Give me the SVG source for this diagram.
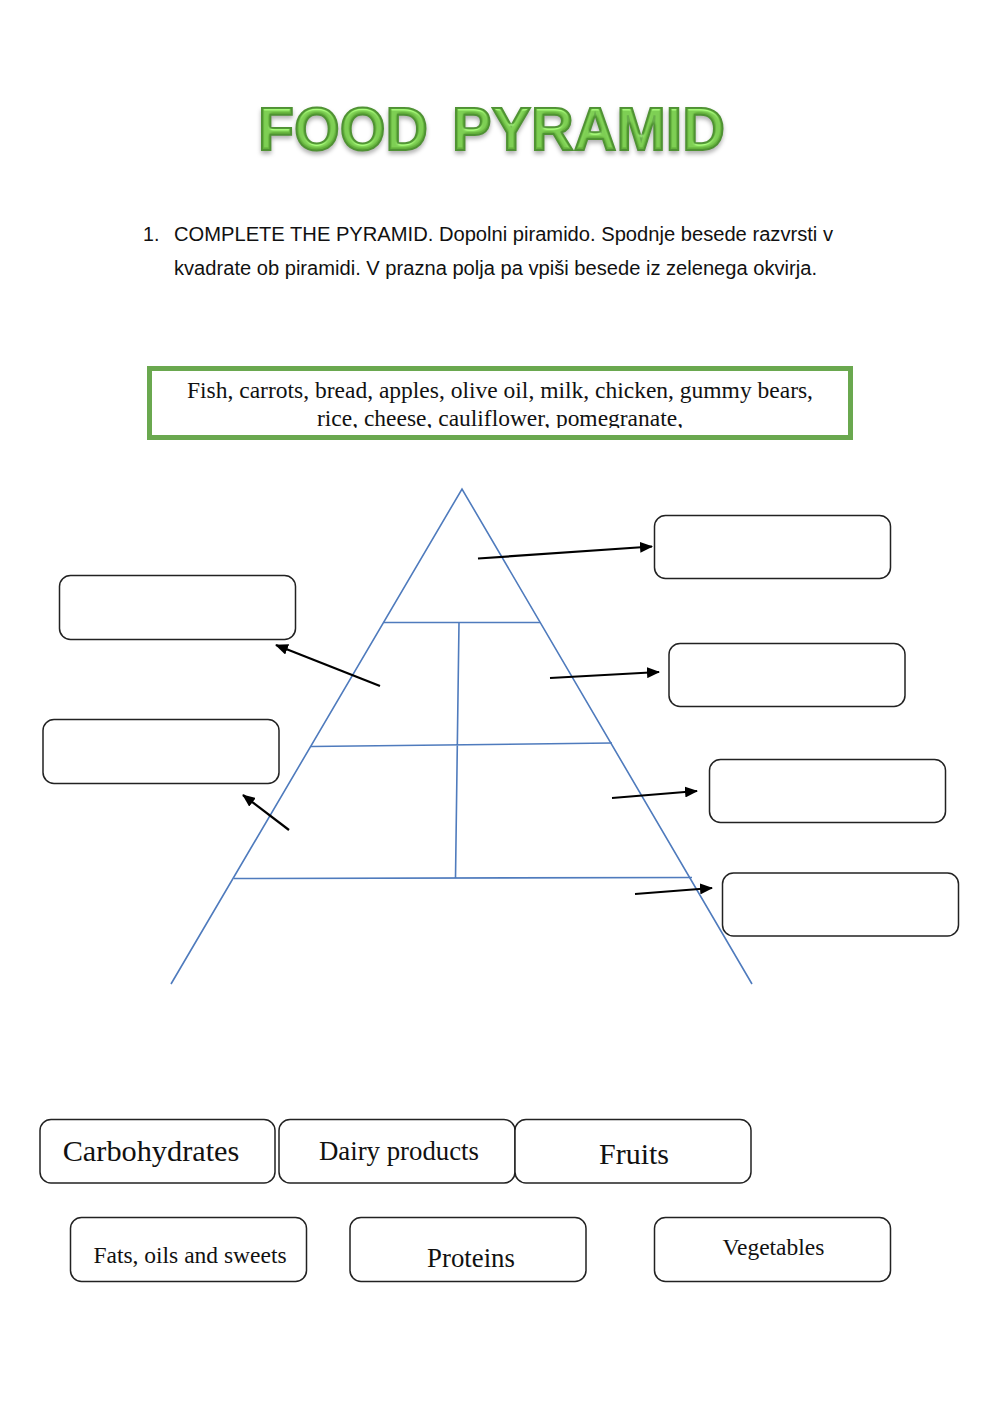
<svg xmlns="http://www.w3.org/2000/svg" width="1000" height="1413" viewBox="0 0 1000 1413">
<defs>
<marker id="ah" markerUnits="userSpaceOnUse" markerWidth="13" markerHeight="11" refX="12" refY="5.500" orient="auto"><path d="M0 0L13 5.500L0 11Z" fill="#000"/></marker>
<filter id="bevel" x="-5%" y="-20%" width="110%" height="150%" color-interpolation-filters="sRGB">
<feGaussianBlur in="SourceAlpha" stdDeviation="1.4" result="b"/>
<feSpecularLighting in="b" surfaceScale="3" specularConstant="0.8" specularExponent="22" lighting-color="#eaffd8" result="sp"><feDistantLight azimuth="270" elevation="55"/></feSpecularLighting>
<feComposite in="sp" in2="SourceAlpha" operator="in" result="spIn"/>
<feComposite in="SourceGraphic" in2="spIn" operator="arithmetic" k1="0" k2="1" k3="0.4" k4="0" result="lit"/>
<feDropShadow in="lit" dx="0" dy="3" stdDeviation="2" flood-color="#000" flood-opacity="0.3"/>
</filter>
<clipPath id="cut"><rect x="152" y="405" width="696" height="23"/></clipPath>
</defs>
<style>
.box{fill:#fff;stroke:#222;stroke-width:1.500}
.py{fill:none;stroke:#4f7bbd;stroke-width:1.600}
.ar{stroke:#000;stroke-width:2.200;fill:none;marker-end:url(#ah)}
.s{font-family:"Liberation Sans",Arial,sans-serif;font-size:19.6px;fill:#111}
.t{font-family:"Liberation Serif","Times New Roman",serif;fill:#111}
.h{font-family:"Liberation Sans",Arial,sans-serif;font-weight:700;font-size:62px;fill:#64b23c;stroke:#4f9233;stroke-width:2}
</style>
<rect width="1000" height="1413" fill="#fff"/>
<g id="title" filter="url(#bevel)">
<text class="h" x="258" y="150" textLength="170" lengthAdjust="spacingAndGlyphs">FOOD</text>
<text class="h" x="452" y="150" textLength="273" lengthAdjust="spacingAndGlyphs">PYRAMID</text>
</g>
<g id="instructions">
<text class="s" x="143" y="241">1.</text>
<text class="s" x="174" y="241" textLength="659" lengthAdjust="spacingAndGlyphs">COMPLETE THE PYRAMID. Dopolni piramido. Spodnje besede razvrsti v</text>
<text class="s" x="174" y="275" textLength="643" lengthAdjust="spacingAndGlyphs">kvadrate ob piramidi. V prazna polja pa vpiši besede iz zelenega okvirja.</text>
</g>
<g id="word-box">
<rect x="149.500" y="368.500" width="701" height="69" fill="#fff" stroke="#6aa84f" stroke-width="5"/>
<text class="t" x="500" y="398" text-anchor="middle" font-size="23.500" textLength="626" lengthAdjust="spacingAndGlyphs">Fish, carrots, bread, apples, olive oil, milk, chicken, gummy bears,</text>
<text class="t" x="500" y="426" text-anchor="middle" font-size="23.500" textLength="366" lengthAdjust="spacingAndGlyphs" clip-path="url(#cut)">rice, cheese, cauliflower, pomegranate,</text>
</g>
<g id="pyramid">
<path class="py" d="M171 984L462 489L752 984"/>
<path class="py" d="M384 622.500H540M311 746.500L612 743M234 878.500L692 877.500M459 622.500L455.500 878"/>
</g>
<g id="connectors">
<path class="ar" d="M478 558.500L652 546.500"/>
<path class="ar" d="M550 678L659 672"/>
<path class="ar" d="M612 798L697 791"/>
<path class="ar" d="M635 894L712 888"/>
<path class="ar" d="M380 686L276 645"/>
<path class="ar" d="M289 830L243 795"/>
</g>
<g id="blank-1"><rect class="box" x="654.500" y="515.500" width="236" height="63" rx="11"/></g>
<g id="blank-2"><rect class="box" x="669" y="643.500" width="236" height="63" rx="11"/></g>
<g id="blank-3"><rect class="box" x="709.500" y="759.500" width="236" height="63" rx="11"/></g>
<g id="blank-4"><rect class="box" x="722.500" y="873" width="236" height="63" rx="11"/></g>
<g id="blank-5"><rect class="box" x="59.500" y="575.500" width="236" height="64" rx="11"/></g>
<g id="blank-6"><rect class="box" x="43" y="719.500" width="236" height="64" rx="11"/></g>
<g id="carbohydrates"><rect class="box" x="40" y="1119.500" width="235" height="63.500" rx="11"/><text class="t" x="151" y="1161" text-anchor="middle" font-size="30.300">Carbohydrates</text></g>
<g id="dairy"><rect class="box" x="279" y="1119.500" width="236" height="63.500" rx="11"/><text class="t" x="399" y="1160" text-anchor="middle" font-size="26.800">Dairy products</text></g>
<g id="fruits"><rect class="box" x="515" y="1119.500" width="236" height="63.500" rx="11"/><text class="t" x="634" y="1164" text-anchor="middle" font-size="30">Fruits</text></g>
<g id="fats"><rect class="box" x="70.500" y="1217.500" width="236" height="64" rx="11"/><text class="t" x="190" y="1263" text-anchor="middle" font-size="23.500">Fats, oils and sweets</text></g>
<g id="proteins"><rect class="box" x="350" y="1217.500" width="236" height="64" rx="11"/><text class="t" x="471" y="1267" text-anchor="middle" font-size="26.800">Proteins</text></g>
<g id="vegetables"><rect class="box" x="654.500" y="1217.500" width="236" height="64" rx="11"/><text class="t" x="773.500" y="1255" text-anchor="middle" font-size="23.500">Vegetables</text></g>
</svg>
